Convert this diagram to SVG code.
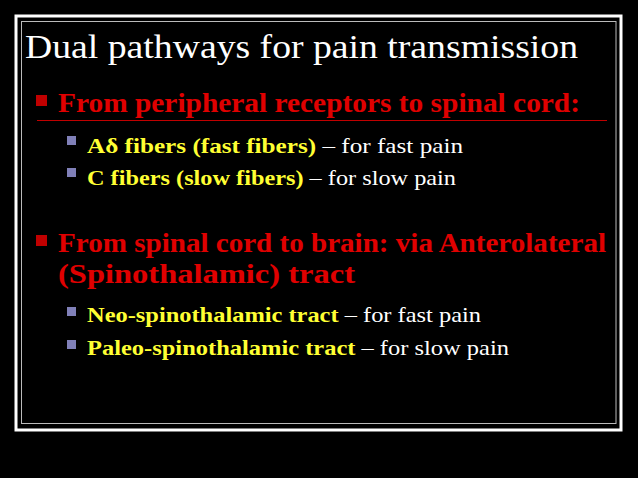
<svg xmlns="http://www.w3.org/2000/svg" width="638" height="478" viewBox="0 0 638 478">
<style>
.t{font-family:"Liberation Serif",serif;fill:#fff}
.r{font-family:"Liberation Serif",serif;font-weight:bold;fill:#e00000;font-size:27px}
.s{font-family:"Liberation Serif",serif;font-size:21px;fill:#fff}
.y{fill:#ffff33;font-weight:bold}
.b1{fill:#c00000}
.b2{fill:#8080b8}
</style>
<rect width="638" height="478" fill="#000"/>
<rect x="16" y="16" width="605" height="414" fill="none" stroke="#fff" stroke-width="3"/>
<rect x="21.5" y="21.5" width="594.5" height="402" fill="none" stroke="#bbb" stroke-width="1"/>
<g id="title"><text class="t" x="25" y="58" font-size="33" textLength="553" lengthAdjust="spacingAndGlyphs">Dual pathways for pain transmission</text></g>
<g id="item1">
<rect class="b1" x="36" y="95" width="11" height="11"/>
<text class="r" x="58" y="112" textLength="522" lengthAdjust="spacingAndGlyphs">From peripheral receptors to spinal cord:</text>
<line x1="37" y1="120.5" x2="607" y2="120.5" stroke="#c00000" stroke-width="1"/>
</g>
<g id="sub1">
<rect class="b2" x="67" y="136" width="9" height="9"/>
<text class="s" x="87" y="153" textLength="376" lengthAdjust="spacingAndGlyphs"><tspan class="y">Aδ fibers (fast fibers)</tspan> – for fast pain</text>
<rect class="b2" x="67" y="168" width="9" height="9"/>
<text class="s" x="87" y="185" textLength="369" lengthAdjust="spacingAndGlyphs"><tspan class="y">C fibers (slow fibers)</tspan> – for slow pain</text>
</g>
<g id="item2">
<rect class="b1" x="36" y="235" width="11" height="11"/>
<text class="r" x="58" y="252" textLength="548" lengthAdjust="spacingAndGlyphs">From spinal cord to brain: via Anterolateral</text>
<text class="r" x="58" y="283" textLength="297" lengthAdjust="spacingAndGlyphs">(Spinothalamic) tract</text>
</g>
<g id="sub2">
<rect class="b2" x="67" y="307" width="9" height="9"/>
<text class="s" x="87" y="322" textLength="394" lengthAdjust="spacingAndGlyphs"><tspan class="y">Neo-spinothalamic tract</tspan> – for fast pain</text>
<rect class="b2" x="67" y="340" width="9" height="9"/>
<text class="s" x="87" y="355" textLength="422" lengthAdjust="spacingAndGlyphs"><tspan class="y">Paleo-spinothalamic tract</tspan> – for slow pain</text>
</g>
</svg>
